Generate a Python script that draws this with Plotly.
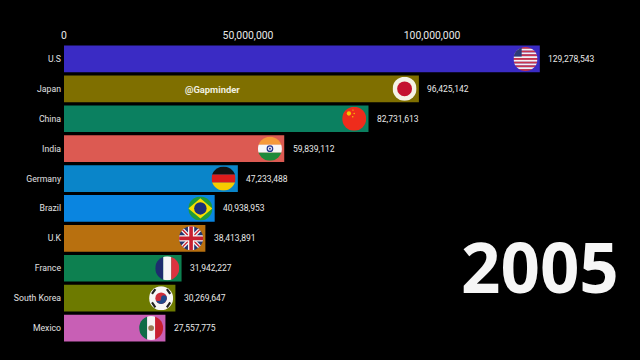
import base64
import plotly.graph_objects as go

countries = ["U.S", "Japan", "China", "India", "Germany", "Brazil", "U.K", "France", "South Korea", "Mexico"]
values = [129278543, 96425142, 82731613, 59839112, 47233488, 40938953, 38413891, 31942227, 30269647, 27557775]
bar_colors = ["#3a2bc4", "#7f6f00", "#0b8060", "#dc5a52", "#0a85c9", "#0a85e0", "#b8700f", "#0d8050", "#6d7a00", "#c85fb5"]
tick_values = [0, 50000000, 100000000]
tick_labels = ["0", "50,000,000", "100,000,000"]
year_label = "2005"
watermark = "@Gapminder"

def stripes_v(cols):
    w = 100 / len(cols)
    return "".join(f'<rect x="{i*w}" y="0" width="{w+0.5}" height="100" fill="{c}"/>' for i, c in enumerate(cols))

def stripes_h(cols):
    h = 100 / len(cols)
    return "".join(f'<rect x="0" y="{i*h}" width="100" height="{h+0.5}" fill="{c}"/>' for i, c in enumerate(cols))

us = "".join(f'<rect x="0" y="{i*100/13}" width="100" height="{100/13+0.3}" fill="{"#c8344a" if i % 2 == 0 else "#f4f0f0"}"/>' for i in range(13)) + '<rect x="0" y="0" width="34" height="40" fill="#2c3a78"/>'
japan = '<rect width="100" height="100" fill="#f5f3e6"/><circle cx="50" cy="50" r="31" fill="#c4122f"/>'
china = '<rect width="100" height="100" fill="#ee2c1c"/><circle cx="28" cy="28" r="9" fill="#f7c600"/><circle cx="45" cy="14" r="3" fill="#f7c600"/><circle cx="50" cy="28" r="3" fill="#f7c600"/><circle cx="44" cy="42" r="3" fill="#f7c600"/>'
india = stripes_h(["#f59a3a", "#f7f7f7", "#1f8a3a"]) + '<circle cx="50" cy="50" r="14" fill="#20308a"/><circle cx="50" cy="50" r="9" fill="#e8e8f4"/><circle cx="50" cy="50" r="4" fill="#20308a"/>'
germany = stripes_h(["#111111", "#dd1c1c", "#f7cc00"])
brazil = '<rect width="100" height="100" fill="#1f9a3a"/><polygon points="50,8 100,50 50,92 0,50" fill="#f7df00"/><circle cx="50" cy="50" r="26" fill="#1c2f78"/>'
uk = ('<rect width="100" height="100" fill="#24356f"/><path d="M0,0L100,100M100,0L0,100" stroke="#f4f4f4" stroke-width="16"/>'
      '<path d="M0,0L100,100M100,0L0,100" stroke="#c8202f" stroke-width="6"/><path d="M50,0V100M0,50H100" stroke="#f4f4f4" stroke-width="26"/>'
      '<path d="M50,0V100M0,50H100" stroke="#c8202f" stroke-width="15"/>')
france = stripes_v(["#1d2d6e", "#f7f7f7", "#dd3340"])
korea = ('<rect width="100" height="100" fill="#f7f7f7"/><circle cx="50" cy="50" r="24" fill="#cd2e3a"/><path d="M26,50A24,24 0 0 0 74,50A12,12 0 0 0 50,50A12,12 0 0 1 26,50Z" fill="#1f4a8c"/>'
         '<path d="M12,32L26,12M74,12L88,32M12,68L26,88M74,88L88,68" stroke="#222222" stroke-width="9"/>')
mexico = stripes_v(["#0f6b47", "#f4f4f4", "#c8202f"]) + '<circle cx="50" cy="50" r="12" fill="#9a7a55"/>'
flags = [us, japan, china, india, germany, brazil, uk, france, korea, mexico]

def flag_uri(body):
    svg = f'<svg xmlns="http://www.w3.org/2000/svg" viewBox="0 0 100 100" width="100" height="100"><clipPath id="c"><circle cx="50" cy="50" r="50"/></clipPath><g clip-path="url(#c)">{body}</g></svg>'
    return "data:image/svg+xml;base64," + base64.b64encode(svg.encode()).decode()

X_MAX = 156500000
PX_PER_UNIT = 576 / X_MAX
FLAG_PX = 24
images = []
for i, (v, body) in enumerate(zip(values, flags)):
    images.append(dict(source=flag_uri(body), xref="x", yref="y", x=v - 14.3 / PX_PER_UNIT, y=i,
                       sizex=FLAG_PX / PX_PER_UNIT, sizey=FLAG_PX / 29.89, xanchor="center", yanchor="middle",
                       sizing="stretch", layer="above"))

fig = go.Figure(go.Bar(
    x=values, y=countries, orientation="h", marker=dict(color=bar_colors, line=dict(width=0)), width=0.893,
    hoverinfo="skip"))

value_notes = [dict(text=f"{v:,}", xref="x", yref="y", x=v, y=c, xshift=6.5, xanchor="left", yanchor="middle",
                    showarrow=False, font=dict(family="Roboto", size=8.5, color="#e8e8e8"))
               for v, c in zip(values, countries)]

fig.update_layout(
    width=640, height=360, autosize=False,
    paper_bgcolor="#000000", plot_bgcolor="#000000", showlegend=False,
    margin=dict(l=64, r=0, t=43.75, b=17.35, pad=0),
    font=dict(family="Roboto", color="#e8e8e8", size=10),
    images=images,
    annotations=value_notes + [
        dict(text=f"<b>{year_label}</b>", xref="paper", yref="paper", x=(539.7 - 64) / 576, y=(342.65 - 265.5) / 298.9,
             xanchor="center", yanchor="middle", showarrow=False,
             font=dict(family="Open Sans", size=69, color="#f6f6f6")),
        dict(text=f"<b>{watermark}</b>", xref="x", yref="y", x=40350000, y=countries[1], yshift=-1,
             xanchor="center", yanchor="middle", showarrow=False,
             font=dict(family="Roboto", size=9.4, color="#f0f0e0")),
    ],
)
fig.update_xaxes(side="top", range=[0, X_MAX], tickvals=tick_values, ticktext=tick_labels,
                 showgrid=False, zeroline=False, showline=False, ticks="", ticklabelstandoff=2,
                 tickfont=dict(family="Roboto", size=10.4, color="#e8e8e8"))
fig.update_yaxes(type="category", categoryorder="array", categoryarray=countries, range=[9.5, -0.5],
                 showgrid=False, zeroline=False, showline=False, ticks="", ticklabelstandoff=2,
                 tickfont=dict(family="Roboto", size=8.7, color="#e0e0e0"))
fig.write_html("out.html", config=dict(displayModeBar=False),
               post_script="document.body.style.margin='0';document.body.style.background='#000';")
